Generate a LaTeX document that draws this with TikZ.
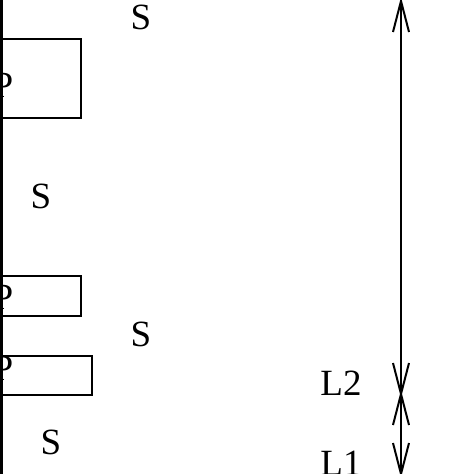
\documentclass[tikz,border=0pt]{standalone}
\usepackage{fontspec}
\setmainfont{Liberation Serif}
\usetikzlibrary{arrows.meta, positioning, calc}

\begin{document}
\begin{tikzpicture}[x=1pt,y=-1pt,
  lbl/.style={font=\fontsize{37}{42}\selectfont, inner sep=0pt},
  slab/.style={draw, line width=2.2pt},
  dim/.style={line width=1.1pt, {Straight Barb[length=31pt,width=16pt,line width=2pt]}-{Straight Barb[length=31pt,width=16pt,line width=2pt]}}]
\useasboundingbox (0,0) rectangle (474,474);
% Slabs
\draw[slab] (-20,39) rectangle (81,118);
\draw[slab] (-20,276) rectangle (81,316);
\draw[slab] (-20,356) rectangle (92,395);
% Spine
\draw[line width=3.2pt] (1.5,-5) -- (1.5,480);
% Labels
\node[lbl] (p1) at (3,85) {P};
\node[lbl] (p2) at (3,297) {P};
\node[lbl] (p3) at (3,368) {P};
\node[lbl] (s1) at (141,17) {S};
\node[lbl] (s2) at (41,196) {S};
\node[lbl] (s3) at (141,334) {S};
\node[lbl] (s4) at (51,442) {S};
% Dimension arrows
\coordinate (top) at (401,-3);
\coordinate (midA) at (401,398);
\coordinate (midB) at (401,390);
\coordinate (bot) at (401,478);
\draw[dim] (midA) -- (top);
\draw[dim] (midB) -- (bot);
\node[lbl] (l2) at (341,383) {L2};
\node[lbl] (l1) at (341,463) {L1};
\end{tikzpicture}
\end{document}
